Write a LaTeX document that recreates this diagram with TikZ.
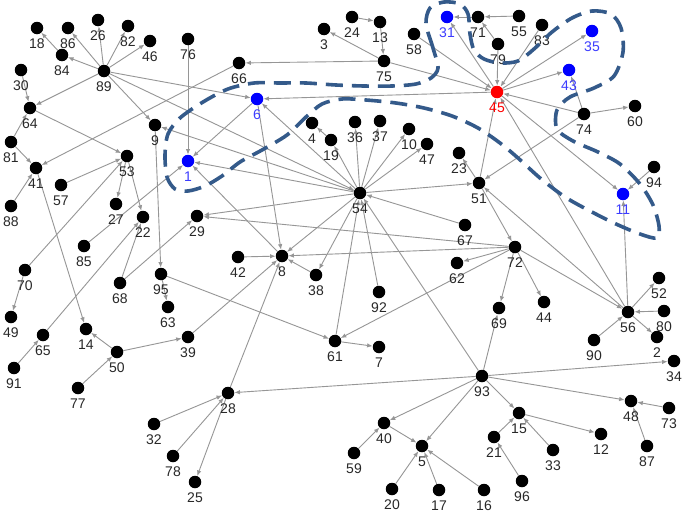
\documentclass[tikz,border=0pt]{standalone}
\usepackage{fontspec}
\setmainfont{Liberation Sans}
\usetikzlibrary{arrows.meta}
\pgfdeclarelayer{background}
\pgfsetlayers{background,main}
\definecolor{edgegray}{RGB}{150,150,150}
\definecolor{dashblue}{RGB}{52,90,138}
\definecolor{nodeblue}{RGB}{0,0,255}
\definecolor{nodered}{RGB}{255,0,0}
\definecolor{lblblue}{RGB}{60,60,255}
\definecolor{lblgray}{RGB}{40,40,40}
\newcommand{\gnode}[5]{\node[#1] (n#2) at (#3,#4) {}; \node[#5] (l#2) at ([yshift=-16pt]n#2.center) {#2};}
\begin{document}
\begin{tikzpicture}[x=1pt,y=-1pt,
  vtx/.style={circle,fill=black,inner sep=0pt,minimum size=12.5pt},
  bvtx/.style={vtx,fill=nodeblue},
  rvtx/.style={vtx,fill=nodered},
  lbl/.style={font=\fontsize{14}{14}\selectfont,text=lblgray,inner sep=0pt,anchor=center},
  blbl/.style={lbl,text=lblblue},
  rlbl/.style={lbl,text=nodered},
  link/.style={draw=edgegray,line width=0.9pt,-{Latex[length=5.5pt,width=4.5pt]}},
  ring/.style={draw=dashblue,line width=3.6pt,dash pattern=on 17pt off 9pt,line cap=butt}
]
\useasboundingbox (0,0) rectangle (685,514);

\gnode{vtx}{18}{37}{28}{lbl}
\gnode{vtx}{86}{68}{28}{lbl}
\gnode{vtx}{26}{98}{20}{lbl}
\gnode{vtx}{82}{128}{26}{lbl}
\gnode{vtx}{46}{150}{41}{lbl}
\gnode{vtx}{84}{62}{55}{lbl}
\gnode{vtx}{89}{104}{71}{lbl}
\gnode{vtx}{30}{21}{70}{lbl}
\gnode{vtx}{64}{30}{108}{lbl}
\gnode{vtx}{81}{11}{142}{lbl}
\gnode{vtx}{41}{36}{168}{lbl}
\gnode{vtx}{88}{11}{206}{lbl}
\gnode{vtx}{57}{61}{185}{lbl}
\gnode{vtx}{53}{127}{156}{lbl}
\gnode{vtx}{9}{155}{125}{lbl}
\gnode{vtx}{76}{188}{39}{lbl}
\gnode{vtx}{66}{239}{63}{lbl}
\gnode{bvtx}{6}{257}{99}{blbl}
\gnode{bvtx}{1}{188}{161}{blbl}
\gnode{vtx}{3}{324}{29}{lbl}
\gnode{vtx}{24}{352}{17}{lbl}
\gnode{vtx}{13}{380}{22}{lbl}
\gnode{vtx}{75}{384}{61}{lbl}
\gnode{vtx}{58}{414}{34}{lbl}
\gnode{bvtx}{31}{447}{17}{blbl}
\gnode{vtx}{71}{478}{17}{lbl}
\gnode{vtx}{55}{519}{16}{lbl}
\gnode{vtx}{79}{498}{44}{lbl}
\gnode{vtx}{83}{542}{25}{lbl}
\gnode{bvtx}{35}{592}{31}{blbl}
\gnode{bvtx}{43}{569}{70}{blbl}
\gnode{rvtx}{45}{497}{92}{rlbl}
\gnode{vtx}{74}{584}{114}{lbl}
\gnode{vtx}{60}{635}{106}{lbl}
\gnode{vtx}{4}{312}{123}{lbl}
\gnode{vtx}{19}{331}{140}{lbl}
\gnode{vtx}{36}{355}{122}{lbl}
\gnode{vtx}{37}{380}{121}{lbl}
\gnode{vtx}{10}{409}{129}{lbl}
\gnode{vtx}{47}{427}{144}{lbl}
\gnode{vtx}{23}{459}{153}{lbl}
\gnode{vtx}{54}{360}{193}{lbl}
\gnode{vtx}{51}{479}{183}{lbl}
\gnode{vtx}{67}{465}{225}{lbl}
\gnode{vtx}{72}{515}{247}{lbl}
\gnode{vtx}{62}{457}{263}{lbl}
\gnode{vtx}{94}{654}{167}{lbl}
\gnode{bvtx}{11}{623}{194}{blbl}
\gnode{vtx}{52}{659}{278}{lbl}
\gnode{vtx}{56}{628}{312}{lbl}
\gnode{vtx}{80}{664}{311}{lbl}
\gnode{vtx}{2}{657}{337}{lbl}
\gnode{vtx}{90}{594}{340}{lbl}
\gnode{vtx}{34}{674}{361}{lbl}
\gnode{vtx}{44}{544}{302}{lbl}
\gnode{vtx}{69}{499}{308}{lbl}
\gnode{vtx}{92}{379}{292}{lbl}
\gnode{vtx}{27}{116}{204}{lbl}
\gnode{vtx}{22}{143}{217}{lbl}
\gnode{vtx}{85}{84}{246}{lbl}
\gnode{vtx}{68}{120}{283}{lbl}
\gnode{vtx}{95}{161}{274}{lbl}
\gnode{vtx}{63}{168}{307}{lbl}
\gnode{vtx}{29}{197}{216}{lbl}
\gnode{vtx}{42}{238}{257}{lbl}
\gnode{vtx}{8}{282}{256}{lbl}
\gnode{vtx}{38}{316}{275}{lbl}
\gnode{vtx}{70}{25}{270}{lbl}
\gnode{vtx}{49}{11}{317}{lbl}
\gnode{vtx}{65}{43}{335}{lbl}
\gnode{vtx}{91}{14}{368}{lbl}
\gnode{vtx}{14}{86}{329}{lbl}
\gnode{vtx}{50}{117}{352}{lbl}
\gnode{vtx}{77}{78}{388}{lbl}
\gnode{vtx}{39}{188}{337}{lbl}
\gnode{vtx}{61}{335}{341}{lbl}
\gnode{vtx}{7}{379}{347}{lbl}
\gnode{vtx}{93}{482}{376}{lbl}
\gnode{vtx}{28}{228}{393}{lbl}
\gnode{vtx}{32}{154}{424}{lbl}
\gnode{vtx}{78}{173}{456}{lbl}
\gnode{vtx}{25}{195}{482}{lbl}
\gnode{vtx}{40}{384}{423}{lbl}
\gnode{vtx}{59}{354}{453}{lbl}
\gnode{vtx}{5}{422}{446}{lbl}
\gnode{vtx}{20}{392}{489}{lbl}
\gnode{vtx}{17}{439}{490}{lbl}
\gnode{vtx}{16}{484}{490}{lbl}
\gnode{vtx}{15}{519}{413}{lbl}
\gnode{vtx}{21}{494}{437}{lbl}
\gnode{vtx}{96}{522}{481}{lbl}
\gnode{vtx}{33}{553}{450}{lbl}
\gnode{vtx}{12}{601}{434}{lbl}
\gnode{vtx}{48}{631}{401}{lbl}
\gnode{vtx}{73}{669}{408}{lbl}
\gnode{vtx}{87}{647}{446}{lbl}

\begin{pgfonlayer}{background}
\fill[white] (0,0) rectangle (685,514);
\foreach \a/\b in {89/86,89/26,89/82,89/46,89/84,84/18,89/64,89/9,89/6,89/54,
  30/64,81/64,64/53,81/41,88/41,66/41,41/14,57/53,70/53,53/27,53/22,70/49,65/22,91/65,68/22,68/29,
  85/1,76/1,6/1,8/1,54/1,54/9,9/95,95/63,95/61,
  75/66,75/3,24/13,13/75,75/45,58/45,45/31,71/31,79/71,55/71,79/45,83/45,45/35,45/43,74/43,74/45,74/60,74/51,45/6,45/11,94/11,56/11,56/45,51/45,
  54/6,6/8,54/19,19/4,54/36,54/37,54/10,54/47,51/23,54/51,67/54,92/54,61/54,93/54,54/29,54/8,54/38,
  42/8,38/8,39/8,28/8,72/8,72/29,72/62,72/61,72/69,72/44,72/56,51/72,56/51,56/52,80/56,56/2,90/56,61/7,
  93/69,93/28,93/34,93/48,93/15,93/40,93/5,40/5,59/40,20/5,17/5,16/5,21/15,96/21,33/15,15/12,73/48,87/48,
  32/28,78/28,28/25,50/14,77/50,50/39}
  \draw[link] (n\a) -- (n\b);
\end{pgfonlayer}

\draw[ring] plot[smooth cycle, tension=0.5] coordinates {
(438,68) (433,48) (426,24) (430,8) (444,2) (460,4) (468,14) (470,34) (474,50) (484,59) (500,63) (518,61) (534,49) (552,32) (572,18) (592,11) (611,14) (621,28) (623,52) (614,76) (594,88) (570,97) (557,110) (557,129) (573,141) (598,152) (620,164) (640,184) (653,205) (659,226) (657,238) (640,234) (616,224) (590,211) (565,197) (540,178) (518,158) (500,143) (478,128) (452,116) (424,108) (396,103) (366,100) (342,99) (322,104) (306,117) (287,135) (262,150) (240,162) (222,176) (205,186) (188,191) (175,189) (167,177) (165,155) (168,134) (180,118) (203,102) (228,89) (254,83) (280,83) (306,83) (336,85) (364,86) (392,86) (416,84) (431,78)};
\end{tikzpicture}
\end{document}
